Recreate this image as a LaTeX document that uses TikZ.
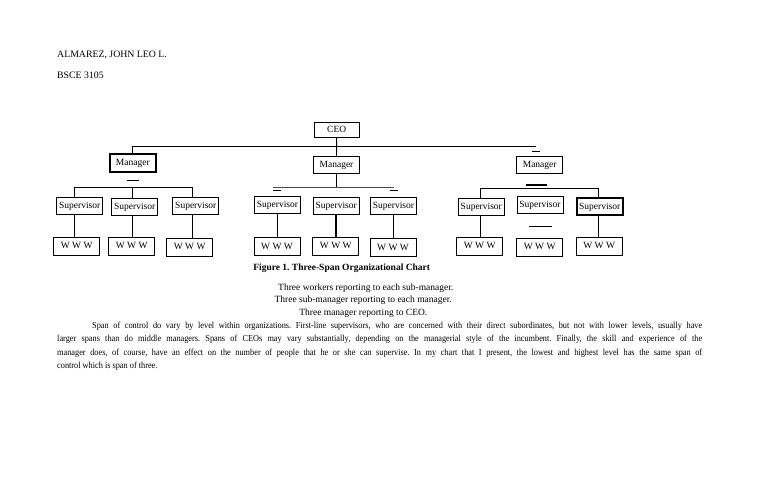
\documentclass[tikz,border=0pt]{standalone}
\usepackage{fontspec}
\setmainfont{Liberation Serif}
\newfontfamily\narrowserif[FakeStretch=0.9]{Liberation Serif}
\frenchspacing
\begin{document}
\begin{tikzpicture}[x=1pt,y=-1pt,
  box/.style={draw=black,line width=0.9pt,fill=white,inner sep=0pt,minimum width=46pt,minimum height=17pt,text height=0.68em,text depth=0.2em,font=\fontsize{9.5}{11}\selectfont},
  thickbox/.style={box,line width=1.8pt},
  wbox/.style={box,minimum height=18pt},
  conn/.style={draw=black,line width=0.9pt},
  dashmark/.style={draw=black,line width=0.9pt},
  txt/.style={inner sep=0pt,anchor=west,font=\fontsize{9.8}{11}\selectfont},
  ptxt/.style={inner sep=0pt,anchor=west,font=\narrowserif\fontsize{9.2}{11}\selectfont},
  ctxt/.style={inner sep=0pt,font=\fontsize{9.5}{11}\selectfont}]
\useasboundingbox[fill=white] (0,0) rectangle (768,494);

% header
\node[txt] (name) at (57,55) {ALMAREZ, JOHN LEO L.};
\node[txt] (course) at (57,75) {BSCE 3105};

% top level
\node[box,minimum width=45pt,minimum height=15pt] (ceo) at (336.7,129.8) {CEO};
\node[thickbox,minimum height=18pt] (ml) at (132.8,163.3) {Manager};
\node[box] (mm) at (336.5,164.7) {Manager};
\node[box,line width=1.3pt] (mr) at (539.7,165.3) {Manager};

% supervisors
\node[box] (sl1) at (79.7,205.7) {Supervisor};
\node[box] (sl2) at (134.7,207) {Supervisor};
\node[box] (sl3) at (195.8,206) {Supervisor};
\node[box] (sm1) at (277.5,205.3) {Supervisor};
\node[box,line width=1.3pt] (sm2) at (336.2,206) {Supervisor};
\node[box] (sm3) at (393.5,205.7) {Supervisor};
\node[box] (sr1) at (481.3,207) {Supervisor};
\node[box] (sr2) at (540,205) {Supervisor};
\node[thickbox] (sr3) at (599.7,206.7) {Supervisor};

% workers
\node[wbox] (wl1) at (76.7,246.5) {W W W};
\node[wbox] (wl2) at (131.7,246.5) {W W W};
\node[wbox] (wl3) at (189.7,247.2) {W W W};
\node[wbox] (wm1) at (277,246.7) {W W W};
\node[wbox] (wm2) at (335.8,246.2) {W W W};
\node[wbox] (wm3) at (393,247.7) {W W W};
\node[wbox] (wr1) at (479.7,246.5) {W W W};
\node[wbox] (wr2) at (539.7,247.5) {W W W};
\node[wbox] (wr3) at (599.2,246.2) {W W W};

% top bus
\coordinate (topR) at (536,146);
\draw[conn] (ml.north) |- (topR);
\draw[conn] (ceo.south) -- (mm.north);
\draw[dashmark] (531.7,151.7) -- (540,151.7);

% left group
\coordinate (lbus) at (132.7,187.3);
\draw[dashmark] (127,180.7) -- (139,180.7);
\draw[conn] (sl1.north -| 74.3,0) |- (lbus) -| (sl3.north -| 192.3,0);
\draw[conn] (lbus) -- (sl2.north -| lbus);
\draw[conn] (sl1.south -| 74.3,0) -- (wl1.north -| 74.3,0);
\draw[conn] (sl2.south -| lbus) -- (wl2.north -| lbus);
\draw[conn] (sl3.south -| 192.3,0) -- (wl3.north -| 192.3,0);

% middle group
\coordinate (mbusL) at (273.3,187.3);
\coordinate (mbusR) at (394,187.3);
\draw[conn,draw=black!70] (mbusL) -- (mbusR);
\draw[conn] (mm.south) -- (mm.south |- mbusL);
\draw[dashmark] (273,190.7) -- (281,190.7);
\draw[dashmark] (390,190.7) -- (398,190.7);
\draw[conn] (sm1.south) -- (sm1.south |- wm1.north);
\draw[conn,line width=1.6pt] (sm2.south) -- (sm2.south |- wm2.north);
\draw[conn] (sm3.south) -- (sm3.south |- wm3.north);

% right group
\draw[dashmark,line width=1.3pt] (526,185) -- (547.3,185);
\draw[conn,line width=1.3pt] (sr1.north -| 480.7,0) |- (598.3,188.7) -- (sr3.north -| 598.3,0);
\draw[conn] (sr1.south -| 480.7,0) -- (wr1.north -| 480.7,0);
\draw[conn,line width=1.3pt] (sr3.south -| 598.3,0) -- (wr3.north -| 598.3,0);
\draw[dashmark] (529,226.7) -- (551.7,226.7);

% caption
\node[inner sep=0pt,font=\fontsize{9.5}{11}\selectfont\bfseries] (cap) at (341.7,268) {Figure 1. Three-Span Organizational Chart};
\node[ctxt] (n1) at (365.8,288) {Three workers reporting to each sub-manager.};
\node[ctxt] (n2) at (363.2,300.5) {Three sub-manager reporting to each manager.};
\node[ctxt] (n3) at (363.3,313) {Three manager reporting to CEO.};

% paragraph
\node[ptxt] (p1) at (92,326) {\makebox[610pt][s]{Span of control do vary by level within organizations. First-line supervisors, who are concerned with their direct subordinates, but not with lower levels, usually have}};
\node[ptxt] (p2) at (57,339.5) {\makebox[645pt][s]{larger spans than do middle managers. Spans of CEOs may vary substantially, depending on the managerial style of the incumbent. Finally, the skill and experience of the}};
\node[ptxt] (p3) at (57,353) {\makebox[645pt][s]{manager does, of course, have an effect on the number of people that he or she can supervise. In my chart that I present, the lowest and highest level has the same span of}};
\node[ptxt] (p4) at (57,366.5) {control which is span of three.};
\end{tikzpicture}
\end{document}
